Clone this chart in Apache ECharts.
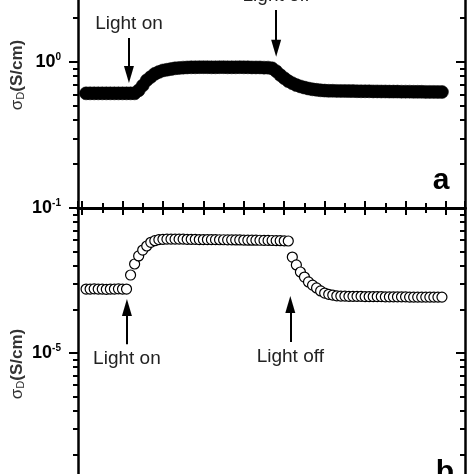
<!DOCTYPE html>
<html><head><meta charset="utf-8">
<script src="https://cdn.jsdelivr.net/npm/echarts@6/dist/echarts.min.js"></script>
<style>html,body{margin:0;padding:0;background:#fff}#c{width:474px;height:474px}</style>
</head><body><div id="c"></div>
<script>
const FONT = "'Liberation Sans', Arial, sans-serif";

// time axis samples (arbitrary units, major tick every 100)
const times = [10,20,30,40,50,60,70,80,90,100,110,120,130,140,150,160,170,180,190,200,
  210,220,230,240,250,260,270,280,290,300,310,320,330,340,350,360,370,380,390,400,
  410,420,430,440,450,460,470,480,490,500,510,520,530,540,550,560,570,580,590,600,
  610,620,630,640,650,660,670,680,690,700,710,720,730,740,750,760,770,780,790,800,
  810,820,830,840,850,860,870,880,890];

// panel a: sigma_D (S/cm)
const sigmaA = [0.61,0.61,0.61,0.61,0.61,0.61,0.61,0.61,0.61,0.61,0.61,0.61,0.61,
  0.64,0.69,0.75,0.79,0.83,0.855,0.875,0.885,0.895,0.905,0.91,
  0.915,0.918,0.92,0.92,0.922,0.922,0.922,0.92,0.92,0.922,0.922,0.92,0.92,0.92,0.922,0.92,0.92,0.918,0.918,0.918,0.915,0.915,
  0.905,0.865,0.815,0.775,0.74,0.715,0.695,0.68,0.668,0.658,0.65,0.645,0.64,0.637,
  0.635,0.635,0.634,0.633,0.633,0.632,0.632,0.631,0.63,0.63,0.63,0.629,0.629,0.628,0.628,0.627,0.627,0.627,0.626,0.626,0.626,0.625,0.625,0.625,0.624,0.624,0.624,0.623,0.623];

// panel b: sigma_D (S/cm)
const sigmaB = [2.76e-5,2.76e-5,2.77e-5,2.76e-5,2.76e-5,2.75e-5,2.76e-5,2.76e-5,2.77e-5,2.76e-5,2.76e-5,
  3.45e-5,4.11e-5,4.67e-5,5.13e-5,5.47e-5,5.8e-5,5.95e-5,6.05e-5,
  6.08e-5,6.1e-5,6.1e-5,6.1e-5,6.1e-5,6.1e-5,6.08e-5,6.08e-5,6.08e-5,6.06e-5,6.06e-5,6.06e-5,6.05e-5,6.05e-5,6.04e-5,6.04e-5,
  6.03e-5,6.03e-5,6.02e-5,6.02e-5,6.01e-5,6.0e-5,6.0e-5,6.0e-5,5.99e-5,5.98e-5,5.98e-5,5.97e-5,5.96e-5,5.95e-5,5.94e-5,5.92e-5,
  4.59e-5,4.05e-5,3.62e-5,3.34e-5,3.09e-5,2.94e-5,2.81e-5,2.68e-5,2.59e-5,2.54e-5,2.51e-5,2.48e-5,
  2.47e-5,2.47e-5,2.46e-5,2.46e-5,2.46e-5,2.46e-5,2.45e-5,2.45e-5,2.45e-5,2.45e-5,2.45e-5,2.44e-5,2.44e-5,2.44e-5,2.44e-5,2.44e-5,2.44e-5,
  2.43e-5,2.43e-5,2.43e-5,2.43e-5,2.43e-5,2.43e-5,2.43e-5,2.43e-5,2.43e-5];

// annotation arrows
const arrowTexts = ['Light on', 'Light off'];
const arrowTimesA = [116, 480];
const arrowFromA = [1.46, 2.27];
const arrowToA = [0.82, 1.24];
const arrowTimesB = [111, 515];
const arrowFromB = [1.15e-5, 1.19e-5];
const arrowToB = [2.06e-5, 2.16e-5];

// axis ranges and tick labels (decades)
const xRange = [-10, 947];
const decadesA = [-1, 0, 1];
const decadesB = [-6, -5, -4];
const labelDecadesA = [-1, 0];
const labelDecadesB = [-5];
const panelLabels = ['a', 'b'];
const yTitle = ['σ', 'D', '(S/cm)'];

function minorTicks(decades) {
  const out = [];
  for (let i = 0; i < decades.length - 1; i++) {
    for (let k = 2; k <= 9; k++) out.push(decades[i] + Math.log10(k));
  }
  return out;
}

function xAx(grid, pos) {
  return {
    gridIndex: grid, type: 'value', position: pos, min: xRange[0], max: xRange[1],
    minInterval: 100, maxInterval: 100,
    axisLine: {show: true, onZero: false, lineStyle: {color: '#000', width: 3}},
    axisTick: {show: true, inside: true, length: 7, lineStyle: {color: '#000', width: 2}},
    minorTick: {show: true, splitNumber: 2, length: 5, lineStyle: {color: '#000', width: 2}},
    axisLabel: {show: false}, splitLine: {show: false}, minorSplitLine: {show: false}
  };
}

const rich = {
  b: {fontSize: 18, fontWeight: 'bold', color: '#000', fontFamily: FONT, lineHeight: 20},
  s: {fontSize: 10, fontWeight: 'bold', color: '#000', fontFamily: FONT, verticalAlign: 'top'}
};

function yDeco(grid, pos, decades, ticks, len, inside, labels, line) {
  return {
    gridIndex: grid, type: 'value', position: pos,
    min: decades[0], max: decades[decades.length - 1],
    axisLine: {show: line, onZero: false, lineStyle: {color: '#000', width: 2.5}},
    axisTick: {show: true, inside: inside, length: len, customValues: ticks, lineStyle: {color: '#000', width: 2}},
    axisLabel: labels ? {show: true, customValues: labels, margin: 17,
      formatter: v => '{b|10}{s|' + v + '}', rich: rich} : {show: false},
    splitLine: {show: false}, minorTick: {show: false}
  };
}

function arrowLines(timesArr, fromArr, toArr) {
  return timesArr.map((t, i) => [
    {coord: [t, fromArr[i]], name: arrowTexts[i], symbol: 'none',
     label: {formatter: arrowTexts[i]}},
    {coord: [t, toArr[i]], symbol: 'triangle', symbolSize: [10, 17]}
  ]);
}

const markLineBase = {
  silent: true, animation: false,
  symbol: ['none', 'triangle'], symbolSize: [0, 17],
  lineStyle: {color: '#000', width: 2, type: 'solid', opacity: 1},
  itemStyle: {color: '#000'},
  label: {show: true, position: 'start', distance: 5, color: '#222', fontSize: 19, fontFamily: FONT},
  emphasis: {disabled: true}
};

function titleGraphic(y) {
  return {type: 'text', x: 17, y: y, rotation: Math.PI / 2, silent: true,
    style: {text: '{s|' + yTitle[0] + '}{d|' + yTitle[1] + '}{p|' + yTitle[2] + '}',
      align: 'center', verticalAlign: 'middle', textAlign: 'center', textVerticalAlign: 'middle',
      rich: {
        s: {fontSize: 17, fill: '#333', fontFamily: FONT, lineHeight: 19},
        d: {fontSize: 11, fill: '#333', fontFamily: FONT, verticalAlign: 'bottom'},
        p: {fontSize: 17, fontWeight: 'bold', fill: '#333', fontFamily: FONT, lineHeight: 19}
      }}};
}

const chart = echarts.init(document.getElementById('c'), null, {renderer: 'canvas'});
chart.setOption({
  animation: false,
  backgroundColor: '#fff',
  textStyle: {fontFamily: FONT},
  grid: [
    {left: 78, right: 9, top: -84, height: 292, outerBoundsMode: 'none', containLabel: false},
    {left: 78, right: 9, top: 208, height: 290, outerBoundsMode: 'none', containLabel: false}
  ],
  xAxis: [xAx(0, 'bottom'), xAx(1, 'top')],
  yAxis: [
    {gridIndex: 0, type: 'log', logBase: 10, min: Math.pow(10, decadesA[0]), max: Math.pow(10, decadesA[2]), show: false},
    yDeco(0, 'left', decadesA, decadesA, 9, false, labelDecadesA, true),
    yDeco(0, 'left', decadesA, minorTicks(decadesA), 5, false, null, false),
    yDeco(0, 'right', decadesA, decadesA, 9, true, null, true),
    yDeco(0, 'right', decadesA, minorTicks(decadesA), 5, true, null, false),
    {gridIndex: 1, type: 'log', logBase: 10, min: Math.pow(10, decadesB[0]), max: Math.pow(10, decadesB[2]), show: false},
    yDeco(1, 'left', decadesB, decadesB, 9, false, labelDecadesB, true),
    yDeco(1, 'left', decadesB, minorTicks(decadesB), 5, false, null, false),
    yDeco(1, 'right', decadesB, decadesB, 9, true, null, true),
    yDeco(1, 'right', decadesB, minorTicks(decadesB), 5, true, null, false)
  ],
  series: [
    {
      type: 'scatter', xAxisIndex: 0, yAxisIndex: 0,
      data: times.map((t, i) => [t, sigmaA[i]]),
      symbol: 'circle', symbolSize: 13,
      itemStyle: {color: '#000', borderColor: '#000', borderWidth: 0.5, opacity: 1},
      silent: true,
      markLine: Object.assign({}, markLineBase, {data: arrowLines(arrowTimesA, arrowFromA, arrowToA)})
    },
    {
      type: 'scatter', xAxisIndex: 1, yAxisIndex: 5,
      data: times.map((t, i) => [t, sigmaB[i]]),
      symbol: 'circle', symbolSize: 10,
      itemStyle: {color: '#fff', borderColor: '#000', borderWidth: 1.2, opacity: 1},
      silent: true,
      markLine: Object.assign({}, markLineBase, {data: arrowLines(arrowTimesB, arrowFromB, arrowToB)})
    }
  ],
  graphic: [
    titleGraphic(75),
    titleGraphic(364),
    {type: 'text', x: 441, y: 181, silent: true,
     style: {text: panelLabels[0], fontSize: 30, fontWeight: 'bold', fontFamily: FONT, fill: '#000',
       align: 'center', verticalAlign: 'middle', textAlign: 'center', textVerticalAlign: 'middle'}},
    {type: 'text', x: 445, y: 473, silent: true,
     style: {text: panelLabels[1], fontSize: 30, fontWeight: 'bold', fontFamily: FONT, fill: '#000',
       align: 'center', verticalAlign: 'middle', textAlign: 'center', textVerticalAlign: 'middle'}}
  ]
});
</script>
</body></html>
